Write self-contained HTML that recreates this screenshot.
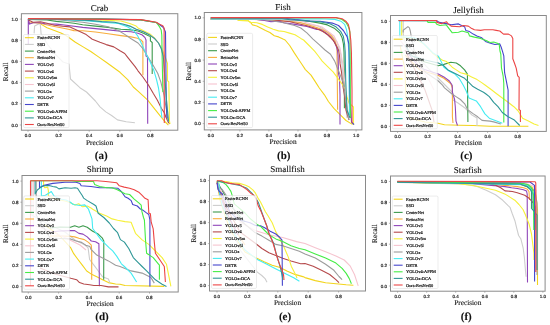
<!DOCTYPE html><html><head><meta charset="utf-8"><style>html,body{margin:0;padding:0;background:#fff;}svg{display:block;will-change:transform;} .tk{font-family:"Liberation Sans",sans-serif;font-size:4.5px;fill:#2a2a2a;stroke:#2a2a2a;stroke-width:0.2px;} .sf{font-family:"Liberation Serif",serif;fill:#111;stroke:#111;stroke-width:0.1px;} .lg{font-family:"Liberation Serif",serif;font-size:4.4px;fill:#111;stroke:#111;stroke-width:0.17px;} text{text-rendering:geometricPrecision;}</style></head><body>
<svg width="550" height="325" viewBox="0 0 550 325">
<rect width="550" height="325" fill="#fff"/>
<clipPath id="ca"><rect x="21.4" y="13.7" width="156.4" height="116.5"/></clipPath>
<g clip-path="url(#ca)" fill="none" stroke-width="1.1" stroke-linejoin="round" stroke-linecap="butt">
<polyline points="39.7,23.2 42.5,25.1 47,27.8 54.4,30.6 60.9,32.9 65.5,35.2 69.2,37.7 75.4,42.3 83.1,46.9 90.8,51.5 98.5,56.9 106.2,62.3 113.8,67.7 120,72.3 127.7,79.6 133.3,87 138,91.2 147.7,100.2 153.2,107.1 158.8,114.1 164.3,121 168.4,125.1" stroke="#f2d41c"/>
<polyline points="34.1,33.4 34.6,26 40.1,23.2 40.6,27.8 41.1,33.8 48,45 56,55 63,62 69,64 70.5,79 79.9,87.7 86.5,92 95.4,101 100,106.8 105.8,111.9 111.6,115.5 117.5,119.9 126.2,121.7 134.9,122.8" stroke="#cdcdcd"/>
<polyline points="28,19.4 47,20 56.3,21.4 65.5,22.3 74,23.2 82.7,24.8 95.5,26.1 108.2,27.4 120.9,29.3 131.1,29.9 138,31 144,33.5 148,35.5 150.4,36.6 150.4,40.9 152.2,42.5 152.2,74" stroke="#3c9a4c"/>
<polyline points="28.2,18.8 29,23 33,22.5 39.7,23.2 51.7,26 60.9,27.8 68.3,29.2 74,30.6 82.7,30.8 95.5,32 108.2,33.7 120.9,35.6 131.1,36.9 137.5,38.2 141,40 142.9,42 142.9,75.2" stroke="#f8ae3e"/>
<polyline points="28.3,45 28.3,18.8 29.5,24.1 33.2,22.8 39.7,22.8 45.2,23.7 56.3,24.1 68.3,25.5 82.7,27.4 95.5,28.6 108.2,29.9 120.9,31.2 131.1,31.8 138,33.3 142.3,35 145,37.6 146,40 146,56 147.5,57 147.7,123.8" stroke="#8f45b9"/>
<polyline points="28.5,20 33,22.3 40.6,21.8 47,23.2 54.4,25.2 62.7,26.3 70,26.9 77.6,30.5 86.2,34.6 92.3,39.2 100,42.3 106.2,44.6 113.8,46.9 120,50.8 124.7,53.5 127.7,57.4 135.1,66.6 138,70.8 142.9,77 148.4,85 153.2,93.3 157.4,100.2 161.5,108.5 164.3,112.7 165.7,116.8 168.4,122.4 169.8,123.8" stroke="#b5494b"/>
<polyline points="28,18.8 80,19.2 108.2,20.4 120.9,21 129.8,23.5 136.2,26.1 138,27.9 144.5,31.2 149.9,33.9 154.2,37.6 158.5,43 161.2,47.3 163.5,53 165.5,58 167.5,63.5 167.5,80.7 168.8,82 169.5,121 170,124" stroke="#f6f03a"/>
<polyline points="28,18.9 55,19.2 70,19.7 89.1,20.4 101.8,21.6 114.5,22.3 123.5,24.2 129.8,26.1 136.2,29.3 143.4,31.7 148.8,34.4 154.2,38.2 158.5,43 161.2,48.4 163.2,56 164,65 165,80 166.5,100 168.5,121.7" stroke="#f6c4cf"/>
<polyline points="28,18.8 45,19 60,20 70,21 82.7,22.3 95.5,24.2 108.2,26.7 118.4,30.5 124.7,34.4 131.1,38.8 138,43 142.9,48.7 146.6,54.8 152.8,64.7 157.7,73.3 160.8,81.9 164,95 166.5,110 167.5,120" stroke="#9c9c9c"/>
<polyline points="28,18.8 55,19.2 70,20 85,20.7 100,22 118.4,23.5 127.3,26.7 133.6,30.5 137.5,35.6 141.7,44 145.4,52.4 150.3,62.2 154,70.8 156.5,79.5 158.5,88 160.1,98.8 161.5,114.1 162,118" stroke="#45ecf2"/>
<polyline points="28,18.7 100,18.9 140.7,19.9 146.6,20.9 156.3,22.5 160,25 162.8,27 163.9,28.5 165.5,32 165.8,60 166.3,105 167,118" stroke="#4545cc"/>
<polyline points="28,18.8 100,19 140.7,19.9 146.6,20.9 156.3,22.5 159.6,26.9 161.2,30.1 161.8,35 162.2,60 162.9,92" stroke="#45ec45"/>
<polyline points="28,18.9 55,19.2 70,19.7 89.1,20.4 101.8,21.6 114.5,22.3 123.5,24.2 129.8,26.1 136.2,29.3 143.4,31.7 148.8,34.4 154.2,38.2 158.5,43 161.2,48.4 163.2,56 164,65 165,80 166.5,100 168.5,121.7" stroke="#2f9797"/>
<polyline points="28,18.6 140.7,19.6 146.6,20.6 156.3,22.2 159.6,24.2 162.8,25.8 164.1,28 164.3,123" stroke="#ec4545"/>
</g>
<rect x="23.6" y="34.5" width="45.4" height="93.1" rx="1.2" fill="#fff" fill-opacity="0.8" stroke="#d8d8d8" stroke-width="0.5"/>
<line x1="24.9" x2="33.8" y1="37.7" y2="37.7" stroke="#f2d41c" stroke-width="1.1"/>
<text class="lg" x="37.2" y="39.2">FasterRCNN</text>
<line x1="24.9" x2="33.8" y1="44.4" y2="44.4" stroke="#cdcdcd" stroke-width="1.1"/>
<text class="lg" x="37.2" y="45.9">SSD</text>
<line x1="24.9" x2="33.8" y1="51.1" y2="51.1" stroke="#3c9a4c" stroke-width="1.1"/>
<text class="lg" x="37.2" y="52.6">CenterNet</text>
<line x1="24.9" x2="33.8" y1="57.7" y2="57.7" stroke="#f8ae3e" stroke-width="1.1"/>
<text class="lg" x="37.2" y="59.2">RetinaNet</text>
<line x1="24.9" x2="33.8" y1="64.4" y2="64.4" stroke="#8f45b9" stroke-width="1.1"/>
<text class="lg" x="37.2" y="65.9">YOLOv3</text>
<line x1="24.9" x2="33.8" y1="71.1" y2="71.1" stroke="#b5494b" stroke-width="1.1"/>
<text class="lg" x="37.2" y="72.6">YOLOv4</text>
<line x1="24.9" x2="33.8" y1="77.8" y2="77.8" stroke="#f6f03a" stroke-width="1.1"/>
<text class="lg" x="37.2" y="79.3">YOLOv5m</text>
<line x1="24.9" x2="33.8" y1="84.5" y2="84.5" stroke="#f6c4cf" stroke-width="1.1"/>
<text class="lg" x="37.2" y="86">YOLOv5l</text>
<line x1="24.9" x2="33.8" y1="91.1" y2="91.1" stroke="#9c9c9c" stroke-width="1.1"/>
<text class="lg" x="37.2" y="92.6">YOLOx</text>
<line x1="24.9" x2="33.8" y1="97.8" y2="97.8" stroke="#45ecf2" stroke-width="1.1"/>
<text class="lg" x="37.2" y="99.3">YOLOv7</text>
<line x1="24.9" x2="33.8" y1="104.5" y2="104.5" stroke="#4545cc" stroke-width="1.1"/>
<text class="lg" x="37.2" y="106">DETR</text>
<line x1="24.9" x2="33.8" y1="111.2" y2="111.2" stroke="#45ec45" stroke-width="1.1"/>
<text class="lg" x="37.2" y="112.7">YOLOv4-AFFM</text>
<line x1="24.9" x2="33.8" y1="117.9" y2="117.9" stroke="#2f9797" stroke-width="1.1"/>
<text class="lg" x="37.2" y="119.4">YOLOx-DCA</text>
<line x1="24.9" x2="33.8" y1="124.5" y2="124.5" stroke="#ec4545" stroke-width="1.1"/>
<text class="lg" x="37.2" y="126">Ours-ResNet50</text>
<rect x="21.4" y="13.7" width="156.4" height="116.5" fill="none" stroke="#8a8a8a" stroke-width="1"/>
<line x1="28" x2="28" y1="130.2" y2="131.8" stroke="#8a8a8a" stroke-width="0.6"/>
<text class="tk" x="28" y="136.8" text-anchor="middle">0.0</text>
<line x1="58.6" x2="58.6" y1="130.2" y2="131.8" stroke="#8a8a8a" stroke-width="0.6"/>
<text class="tk" x="58.6" y="136.8" text-anchor="middle">0.2</text>
<line x1="89.2" x2="89.2" y1="130.2" y2="131.8" stroke="#8a8a8a" stroke-width="0.6"/>
<text class="tk" x="89.2" y="136.8" text-anchor="middle">0.4</text>
<line x1="119.8" x2="119.8" y1="130.2" y2="131.8" stroke="#8a8a8a" stroke-width="0.6"/>
<text class="tk" x="119.8" y="136.8" text-anchor="middle">0.6</text>
<line x1="150.4" x2="150.4" y1="130.2" y2="131.8" stroke="#8a8a8a" stroke-width="0.6"/>
<text class="tk" x="150.4" y="136.8" text-anchor="middle">0.8</text>
<line x1="19.8" x2="21.4" y1="125" y2="125" stroke="#8a8a8a" stroke-width="0.6"/>
<text class="tk" x="17.8" y="126.5" text-anchor="end">0.0</text>
<line x1="19.8" x2="21.4" y1="103.8" y2="103.8" stroke="#8a8a8a" stroke-width="0.6"/>
<text class="tk" x="17.8" y="105.3" text-anchor="end">0.2</text>
<line x1="19.8" x2="21.4" y1="82.6" y2="82.6" stroke="#8a8a8a" stroke-width="0.6"/>
<text class="tk" x="17.8" y="84.1" text-anchor="end">0.4</text>
<line x1="19.8" x2="21.4" y1="61.5" y2="61.5" stroke="#8a8a8a" stroke-width="0.6"/>
<text class="tk" x="17.8" y="63" text-anchor="end">0.6</text>
<line x1="19.8" x2="21.4" y1="40.3" y2="40.3" stroke="#8a8a8a" stroke-width="0.6"/>
<text class="tk" x="17.8" y="41.8" text-anchor="end">0.8</text>
<line x1="19.8" x2="21.4" y1="19.1" y2="19.1" stroke="#8a8a8a" stroke-width="0.6"/>
<text class="tk" x="17.8" y="20.6" text-anchor="end">1.0</text>
<text class="sf" x="99.6" y="10.5" font-size="9" text-anchor="middle">Crab</text>
<text class="sf" x="99.6" y="145" font-size="7.3" text-anchor="middle">Precision</text>
<text class="sf" transform="translate(7.8,71.9) rotate(-90)" font-size="7.3" text-anchor="middle">Recall</text>
<text class="sf" x="101.2" y="158.8" font-size="11" font-weight="bold" text-anchor="middle">(a)</text>
<clipPath id="cb"><rect x="204.3" y="12.5" width="157.6" height="117.4"/></clipPath>
<g clip-path="url(#cb)" fill="none" stroke-width="1.1" stroke-linejoin="round" stroke-linecap="butt">
<polyline points="210.8,19 236,19 239.4,20.5 248,20.6 250.3,22.2 252.5,24.9 256.8,26 261.2,28.2 265.5,30.4 269.9,32.5 274.3,35.8 278.6,36.9 283,39.1 285.1,40 289.7,45.5 294.3,52.9 298,58.5 301.7,64 305.4,69.6 311,75.1 314.6,80.6 319.3,88 324.4,94.8 328.4,101.5 333.9,108.3 340.6,115.1 346,120.5 351.5,123.9 354.2,123.9" stroke="#f2d41c"/>
<polyline points="210.8,19 280,19.2 290,21 318,26 330,33 337,42 341,55 343,75 345,100 347,118" stroke="#cdcdcd"/>
<polyline points="210.8,19 280,19.2 300,20.5 310,21.5 320,23.1 327.4,24.9 334.8,28.6 339.7,32.9 342.1,37.8 343.4,44 344,52 344.4,80 344.4,108.3" stroke="#3c9a4c"/>
<polyline points="210.8,19 250,19.2 271.7,20.2 290,21.5 300,22.5 306.9,24.5 316.7,27.5 322.9,30 328,32.5 332,36.5 335,41 337,47 337.1,63.9 337.6,109.7" stroke="#f8ae3e"/>
<polyline points="210.8,19 255,19.3 260,20 264.5,20.5 271,21.6 278.6,21.1 284.1,22.7 295,24.4 306.9,26.5 316.7,29.5 320,29.5 326,33 331,37.5 334.5,42 336.5,47 337.4,50 338.1,55.5 338.5,73.6 339.5,77.7 340,95 340,124.6" stroke="#8f45b9"/>
<polyline points="210.8,19 270,19.5 290,21.7 306.9,25.8 316.7,28.8 322.9,31.5 328,35 333,40 336.5,46 338.5,50 339.5,55.5 340.1,63.9 341.5,72 342.9,86 344.4,95 346,110 349,120" stroke="#b5494b"/>
<polyline points="210.8,19 236,19 239.4,20.5 248,20.6 250.3,22.2 256.8,22.7 262.3,24.4 267.7,27.1 273.2,29.3 278.6,30.9 284.1,31.5 289.5,33.1 295,34.7 300.8,38.4 303.6,40 309.1,45.5 314.6,51.1 318,55.5 322.2,61.1 327.7,66.6 333.3,72.2 337.4,77.7 341.6,83.3 345,88.8 347,97 349,103 353.5,107 353.5,123" stroke="#f6f03a"/>
<polyline points="210.8,19 280,19.3 300,21 322,27 334,36 340,48 343,65 345,85 347,105 349,118" stroke="#f6c4cf"/>
<polyline points="210.8,19 260,19.3 270,20.5 282.3,22.5 294.6,25.5 300.8,28 306.9,32.9 313,39.1 319.2,44.6 325,50 330.5,54.2 334.7,61.1 337.4,68 340.2,75 343,81.9 345,95 347,110 349,120" stroke="#9c9c9c"/>
<polyline points="210.8,18.9 320,18.8 334.8,19.4 340.9,21.2 344.6,24.3 346.4,29.2 347.7,36.6 348.9,52 349,80 349.5,115" stroke="#45ecf2"/>
<polyline points="210.8,17.8 285,18.2 295,19.5 310,21 320,21.2 332.3,23.1 338.5,25.5 343.4,30.5 347.1,36.6 348.9,44 349.3,60 350,100 351.5,122 354,124.6" stroke="#4545cc"/>
<polyline points="210.8,17.7 336,17.8 342,19.5 346,22.5 348.5,27 349.9,32 350.2,60 350.4,118" stroke="#45ec45"/>
<polyline points="210.8,17.9 280,18.2 290,19.8 320,21.8 329.8,23.7 336,26.8 340.9,31.7 343.4,36.6 344.6,44 345.2,52 345.7,80 347,110 350,118" stroke="#2f9797"/>
<polyline points="210.8,17.6 336,17.6 342.1,18.8 345.8,21.2 348.3,24.3 349.5,29.2 350.8,40.3 351.4,52 352,90 352,123" stroke="#ec4545"/>
</g>
<rect x="206.8" y="33.3" width="45.8" height="94.3" rx="1.2" fill="#fff" fill-opacity="0.8" stroke="#d8d8d8" stroke-width="0.5"/>
<line x1="208.1" x2="217" y1="37.4" y2="37.4" stroke="#f2d41c" stroke-width="1.1"/>
<text class="lg" x="220.4" y="38.9">FasterRCNN</text>
<line x1="208.1" x2="217" y1="44" y2="44" stroke="#cdcdcd" stroke-width="1.1"/>
<text class="lg" x="220.4" y="45.5">SSD</text>
<line x1="208.1" x2="217" y1="50.7" y2="50.7" stroke="#3c9a4c" stroke-width="1.1"/>
<text class="lg" x="220.4" y="52.2">CenterNet</text>
<line x1="208.1" x2="217" y1="57.4" y2="57.4" stroke="#f8ae3e" stroke-width="1.1"/>
<text class="lg" x="220.4" y="58.9">RetinaNet</text>
<line x1="208.1" x2="217" y1="64" y2="64" stroke="#8f45b9" stroke-width="1.1"/>
<text class="lg" x="220.4" y="65.5">YOLOv3</text>
<line x1="208.1" x2="217" y1="70.7" y2="70.7" stroke="#b5494b" stroke-width="1.1"/>
<text class="lg" x="220.4" y="72.2">YOLOv4</text>
<line x1="208.1" x2="217" y1="77.3" y2="77.3" stroke="#f6f03a" stroke-width="1.1"/>
<text class="lg" x="220.4" y="78.8">YOLOv5m</text>
<line x1="208.1" x2="217" y1="84" y2="84" stroke="#f6c4cf" stroke-width="1.1"/>
<text class="lg" x="220.4" y="85.5">YOLOv5l</text>
<line x1="208.1" x2="217" y1="90.6" y2="90.6" stroke="#9c9c9c" stroke-width="1.1"/>
<text class="lg" x="220.4" y="92.1">YOLOx</text>
<line x1="208.1" x2="217" y1="97.2" y2="97.2" stroke="#45ecf2" stroke-width="1.1"/>
<text class="lg" x="220.4" y="98.8">YOLOv7</text>
<line x1="208.1" x2="217" y1="103.9" y2="103.9" stroke="#4545cc" stroke-width="1.1"/>
<text class="lg" x="220.4" y="105.4">DETR</text>
<line x1="208.1" x2="217" y1="110.6" y2="110.6" stroke="#45ec45" stroke-width="1.1"/>
<text class="lg" x="220.4" y="112.1">YOLOv4-AFFM</text>
<line x1="208.1" x2="217" y1="117.2" y2="117.2" stroke="#2f9797" stroke-width="1.1"/>
<text class="lg" x="220.4" y="118.7">YOLOx-DCA</text>
<line x1="208.1" x2="217" y1="123.8" y2="123.8" stroke="#ec4545" stroke-width="1.1"/>
<text class="lg" x="220.4" y="125.3">Ours-ResNet50</text>
<rect x="204.3" y="12.5" width="157.6" height="117.4" fill="none" stroke="#8a8a8a" stroke-width="1"/>
<line x1="210.8" x2="210.8" y1="129.9" y2="131.5" stroke="#8a8a8a" stroke-width="0.6"/>
<text class="tk" x="210.8" y="136.5" text-anchor="middle">0.0</text>
<line x1="239.9" x2="239.9" y1="129.9" y2="131.5" stroke="#8a8a8a" stroke-width="0.6"/>
<text class="tk" x="239.9" y="136.5" text-anchor="middle">0.2</text>
<line x1="268.9" x2="268.9" y1="129.9" y2="131.5" stroke="#8a8a8a" stroke-width="0.6"/>
<text class="tk" x="268.9" y="136.5" text-anchor="middle">0.4</text>
<line x1="298" x2="298" y1="129.9" y2="131.5" stroke="#8a8a8a" stroke-width="0.6"/>
<text class="tk" x="298" y="136.5" text-anchor="middle">0.6</text>
<line x1="327" x2="327" y1="129.9" y2="131.5" stroke="#8a8a8a" stroke-width="0.6"/>
<text class="tk" x="327" y="136.5" text-anchor="middle">0.8</text>
<line x1="356.1" x2="356.1" y1="129.9" y2="131.5" stroke="#8a8a8a" stroke-width="0.6"/>
<text class="tk" x="356.1" y="136.5" text-anchor="middle">1.0</text>
<line x1="202.7" x2="204.3" y1="123.6" y2="123.6" stroke="#8a8a8a" stroke-width="0.6"/>
<text class="tk" x="200.7" y="125.1" text-anchor="end">0.0</text>
<line x1="202.7" x2="204.3" y1="102.4" y2="102.4" stroke="#8a8a8a" stroke-width="0.6"/>
<text class="tk" x="200.7" y="103.9" text-anchor="end">0.2</text>
<line x1="202.7" x2="204.3" y1="81.3" y2="81.3" stroke="#8a8a8a" stroke-width="0.6"/>
<text class="tk" x="200.7" y="82.8" text-anchor="end">0.4</text>
<line x1="202.7" x2="204.3" y1="60.1" y2="60.1" stroke="#8a8a8a" stroke-width="0.6"/>
<text class="tk" x="200.7" y="61.6" text-anchor="end">0.6</text>
<line x1="202.7" x2="204.3" y1="39" y2="39" stroke="#8a8a8a" stroke-width="0.6"/>
<text class="tk" x="200.7" y="40.5" text-anchor="end">0.8</text>
<line x1="202.7" x2="204.3" y1="17.8" y2="17.8" stroke="#8a8a8a" stroke-width="0.6"/>
<text class="tk" x="200.7" y="19.3" text-anchor="end">1.0</text>
<text class="sf" x="283.1" y="9.8" font-size="9" text-anchor="middle">Fish</text>
<text class="sf" x="283.1" y="144.4" font-size="7.3" text-anchor="middle">Precision</text>
<text class="sf" transform="translate(190.7,71.2) rotate(-90)" font-size="7.3" text-anchor="middle">Recall</text>
<text class="sf" x="283.8" y="159.2" font-size="11" font-weight="bold" text-anchor="middle">(b)</text>
<clipPath id="cc"><rect x="390.5" y="15.5" width="155.8" height="115.9"/></clipPath>
<g clip-path="url(#cc)" fill="none" stroke-width="1.1" stroke-linejoin="round" stroke-linecap="butt">
<polyline points="400,45 405,70 406,100 410,118 425,122 438,123.3 444.5,124.8 458.9,125.2 473.4,125.5 490,126.2 528.4,126.2" stroke="#f2d41c"/>
<polyline points="403.2,20.8 403.2,33 404,40 420,60 435,75 445,85 452,92 453,100 458,103 465,108 472,115 477,118 477,126" stroke="#cdcdcd"/>
<polyline points="405,45 410,55 425,62 438.3,65.8 443.9,64.4 450.8,62.3 456.3,63 460.5,65.8 464.6,69.9 467.4,74.1 467.9,121.9" stroke="#3c9a4c"/>
<polyline points="405,55 420,70 438.3,75.5 443.9,78.3 450.8,83.8 452.4,88 452.4,116.8 453,123" stroke="#f8ae3e"/>
<polyline points="405,50 420,68 438.3,74.1 443.9,76.9 449.4,81 452.2,85.2 452.4,92.2 454.6,99.5 455.3,106.7 456,121.1 457.5,125.5" stroke="#8f45b9"/>
<polyline points="405,50 415,70 425,90 432,110 434,122" stroke="#b5494b"/>
<polyline points="401.7,20.5 401.7,37 406,38 415,39 424,44 433,53.5 438.3,57.5 442.5,60.2 446.6,61.6 449.4,64.4 452.2,67.2 456.3,69.9 460.5,72.7 466,74.1 471.6,76.9 477.1,79.6 481.3,82.4 485,85 490.8,89.3 496.6,93.7 502.3,98 508.1,102.3 513.9,106.7 518.2,111 522.6,118.2 528.4,121.1 534.1,124 538.5,125.5" stroke="#f6f03a"/>
<polyline points="400,40 415,60 428,78 434,90" stroke="#f6c4cf"/>
<polyline points="403.2,32.5 403.2,30.3 407.9,26.6 409.4,27.9 410.3,31 411,35 415,55 425,72 438.3,81 442.5,85.2 444.5,87.9 451.7,93.7 456,96.6 460.4,99.5 464.7,103.8 467.6,109.6 473.4,113.9 477.7,116.8 482,120.4 490,121.1 493.7,121.9 500.9,124" stroke="#9c9c9c"/>
<polyline points="399.8,20.5 399.8,37 405,37 414.7,38 423,43 432.7,52.7 438.3,56.1 441.1,61.6 443.9,67.2 449.4,71.3 454.9,74.1 459.1,78.3 463.3,85.2 466.1,90.8 469,98 476.3,100.9 480.6,106.7 484.9,113.9 489.3,118.2 496.6,121.1 502.3,123.3" stroke="#45ecf2"/>
<polyline points="398.6,20.8 436.7,20.8 439.2,22.4 446.2,23.6 451.1,24.8 458.5,23.9 461.5,25.5 464.6,26.7 465.8,30.4 469.5,31.6 473.2,34.1 476.9,35.9 481.8,37.8 485.5,41.4 490.4,43.3 494.9,44.5 499.8,43.9 501.1,47 502.3,50.7 503.8,55.8 504.6,72.7 506.2,80.4 507.7,88.1 508.1,90 508.1,126.2" stroke="#4545cc"/>
<polyline points="398.6,20.5 426.9,20.6 428.1,22.4 435.5,22.4 436.7,24.2 440,25.5 446.2,24.8 452.3,32.8 458.5,32.2 462.1,31 468.3,32.8 469.5,35.9 474.4,37.1 480.6,38.4 486.7,40.8 490,42.5 493.7,42 497.4,43.2 499.2,44.5 500,51.2 500.8,54.2 501.5,68.1 503.1,75.8 503.8,83.5 503.8,122.6" stroke="#45ec45"/>
<polyline points="405,45 412,56 425,60 438.3,63 443.9,65.8 448,69.9 453.6,72.7 459.1,75.5 464.6,78.3 468.8,82.4 473,86.6 477.7,89.3 483.5,92.2 486,94 489.3,96.6 493.7,102.3 498,106.7 502.3,112.5 508.1,116.8 513.9,119.7 519.7,125.5" stroke="#2f9797"/>
<polyline points="398.6,20.5 436.7,20.5 436.7,22.4 441.7,23.6 446.6,21.8 447.8,23.6 451.1,26.1 459.7,26.7 463.4,25.5 468.3,26.1 470.8,27.9 474.4,29.8 480.6,30.4 484.3,29.8 492.9,29.8 496.2,30.4 499.8,31 503.5,34.1 508.5,34.1 511.5,35.9 512.8,38.4 512.8,58.8 514.6,63.5 516.2,68.1 517.7,75.8 519.2,77.3 519,109.6 520.4,110.5 520.4,121.9" stroke="#ec4545"/>
</g>
<rect x="392.4" y="35.5" width="44.9" height="93.3" rx="1.2" fill="#fff" fill-opacity="0.8" stroke="#d8d8d8" stroke-width="0.5"/>
<line x1="393.7" x2="402.6" y1="39.2" y2="39.2" stroke="#f2d41c" stroke-width="1.1"/>
<text class="lg" x="406" y="40.7">FasterRCNN</text>
<line x1="393.7" x2="402.6" y1="45.8" y2="45.8" stroke="#cdcdcd" stroke-width="1.1"/>
<text class="lg" x="406" y="47.3">SSD</text>
<line x1="393.7" x2="402.6" y1="52.4" y2="52.4" stroke="#3c9a4c" stroke-width="1.1"/>
<text class="lg" x="406" y="53.9">CenterNet</text>
<line x1="393.7" x2="402.6" y1="59.1" y2="59.1" stroke="#f8ae3e" stroke-width="1.1"/>
<text class="lg" x="406" y="60.6">RetinaNet</text>
<line x1="393.7" x2="402.6" y1="65.7" y2="65.7" stroke="#8f45b9" stroke-width="1.1"/>
<text class="lg" x="406" y="67.2">YOLOv3</text>
<line x1="393.7" x2="402.6" y1="72.3" y2="72.3" stroke="#b5494b" stroke-width="1.1"/>
<text class="lg" x="406" y="73.8">YOLOv4</text>
<line x1="393.7" x2="402.6" y1="78.9" y2="78.9" stroke="#f6f03a" stroke-width="1.1"/>
<text class="lg" x="406" y="80.4">YOLOv5m</text>
<line x1="393.7" x2="402.6" y1="85.5" y2="85.5" stroke="#f6c4cf" stroke-width="1.1"/>
<text class="lg" x="406" y="87">YOLOv5l</text>
<line x1="393.7" x2="402.6" y1="92.2" y2="92.2" stroke="#9c9c9c" stroke-width="1.1"/>
<text class="lg" x="406" y="93.7">YOLOx</text>
<line x1="393.7" x2="402.6" y1="98.8" y2="98.8" stroke="#45ecf2" stroke-width="1.1"/>
<text class="lg" x="406" y="100.3">YOLOv7</text>
<line x1="393.7" x2="402.6" y1="105.4" y2="105.4" stroke="#4545cc" stroke-width="1.1"/>
<text class="lg" x="406" y="106.9">DETR</text>
<line x1="393.7" x2="402.6" y1="112" y2="112" stroke="#45ec45" stroke-width="1.1"/>
<text class="lg" x="406" y="113.5">YOLOv4-AFFM</text>
<line x1="393.7" x2="402.6" y1="118.6" y2="118.6" stroke="#2f9797" stroke-width="1.1"/>
<text class="lg" x="406" y="120.1">YOLOx-DCA</text>
<line x1="393.7" x2="402.6" y1="125.3" y2="125.3" stroke="#ec4545" stroke-width="1.1"/>
<text class="lg" x="406" y="126.8">Ours-ResNet50</text>
<rect x="390.5" y="15.5" width="155.8" height="115.9" fill="none" stroke="#8a8a8a" stroke-width="1"/>
<line x1="397.6" x2="397.6" y1="131.4" y2="133" stroke="#8a8a8a" stroke-width="0.6"/>
<text class="tk" x="397.6" y="138" text-anchor="middle">0.0</text>
<line x1="427.6" x2="427.6" y1="131.4" y2="133" stroke="#8a8a8a" stroke-width="0.6"/>
<text class="tk" x="427.6" y="138" text-anchor="middle">0.2</text>
<line x1="457.6" x2="457.6" y1="131.4" y2="133" stroke="#8a8a8a" stroke-width="0.6"/>
<text class="tk" x="457.6" y="138" text-anchor="middle">0.4</text>
<line x1="487.6" x2="487.6" y1="131.4" y2="133" stroke="#8a8a8a" stroke-width="0.6"/>
<text class="tk" x="487.6" y="138" text-anchor="middle">0.6</text>
<line x1="517.6" x2="517.6" y1="131.4" y2="133" stroke="#8a8a8a" stroke-width="0.6"/>
<text class="tk" x="517.6" y="138" text-anchor="middle">0.8</text>
<line x1="388.9" x2="390.5" y1="126.4" y2="126.4" stroke="#8a8a8a" stroke-width="0.6"/>
<text class="tk" x="386.9" y="127.9" text-anchor="end">0.0</text>
<line x1="388.9" x2="390.5" y1="105.4" y2="105.4" stroke="#8a8a8a" stroke-width="0.6"/>
<text class="tk" x="386.9" y="106.9" text-anchor="end">0.2</text>
<line x1="388.9" x2="390.5" y1="84.4" y2="84.4" stroke="#8a8a8a" stroke-width="0.6"/>
<text class="tk" x="386.9" y="85.9" text-anchor="end">0.4</text>
<line x1="388.9" x2="390.5" y1="63.4" y2="63.4" stroke="#8a8a8a" stroke-width="0.6"/>
<text class="tk" x="386.9" y="64.9" text-anchor="end">0.6</text>
<line x1="388.9" x2="390.5" y1="42.4" y2="42.4" stroke="#8a8a8a" stroke-width="0.6"/>
<text class="tk" x="386.9" y="43.9" text-anchor="end">0.8</text>
<line x1="388.9" x2="390.5" y1="21.4" y2="21.4" stroke="#8a8a8a" stroke-width="0.6"/>
<text class="tk" x="386.9" y="22.9" text-anchor="end">1.0</text>
<text class="sf" x="468.4" y="12.5" font-size="9" text-anchor="middle">Jellyfish</text>
<text class="sf" x="468.4" y="145.3" font-size="7.3" text-anchor="middle">Precision</text>
<text class="sf" transform="translate(376.9,73.5) rotate(-90)" font-size="7.3" text-anchor="middle">Recall</text>
<text class="sf" x="466.4" y="159.3" font-size="11" font-weight="bold" text-anchor="middle">(c)</text>
<clipPath id="cd"><rect x="22" y="175.5" width="156.2" height="116.5"/></clipPath>
<g clip-path="url(#cd)" fill="none" stroke-width="1.1" stroke-linejoin="round" stroke-linecap="butt">
<polyline points="45,225 60,236 70.8,247.9 73.7,253.7 78,259.5 82.3,265.2 86.7,271 91,273.9 96.8,276.8 102.6,279.7 108.4,282.6 115.6,284 120,284.2 125,285.5 164.3,286.4" stroke="#f2d41c"/>
<polyline points="31.8,181 31.8,215 50,225 65,232 75,240 85,245 88.1,247.9 89.6,259.5 93.9,265.2 98.3,271 102.6,276.8 108.4,279 109.8,282.6" stroke="#cdcdcd"/>
<polyline points="50,228 60,227 70.5,227.2 74.7,225.8 78.9,227.2 83,225.8 87.2,227.2 92.7,231.3 98.2,234.1 102.4,238.2 103.8,241 103.7,279.7" stroke="#3c9a4c"/>
<polyline points="50,236 60,236 70.5,236.2 74.7,236.9 78.9,238.2 84.4,239.6 88.5,242.4 91.3,245.2 91.7,250 91.7,279.7" stroke="#f8ae3e"/>
<polyline points="50,232 60,231 70.5,230.6 74.7,230.6 78.9,233.4 83,234.1 87.2,236.9 91.3,241 95.5,241.7 98.9,243.8 99.4,286.2" stroke="#8f45b9"/>
<polyline points="40,268 55,274 70.8,278.3 76.6,279.7 79.5,282.6 83.8,284 89.6,284.8 93.9,285.5 101.1,285.5 108.4,286.9 118.5,286.9" stroke="#b5494b"/>
<polyline points="43.6,181 43.6,185.6 44.7,187.8 47.7,187.1 48.4,190.8 48.4,196 55,199 65,201 70,202.5 75,204.9 78.7,203.7 82.4,206.8 87.3,206.1 91,208 92.7,209.2 99.6,213.3 106.6,216.1 112.1,218.9 117.6,220.2 125,221.6 131.1,222.2 135.5,233.3 142.1,239.9 148.8,244.4 155.4,251 162.1,257.6 166.5,264.3 168.7,275.3 170.9,286.4" stroke="#f6f03a"/>
<polyline points="33.3,181 33.3,225 55,233 70,240 80,245 86,250" stroke="#f6c4cf"/>
<polyline points="36.2,181 36.2,215 50,238 60,238.5 70.5,238.9 76.1,241 81.6,242.4 85.8,245.2 89.9,246.6 91,249.3 96.8,255.1 102.6,258 108.4,260.9 115.6,265.2 120,266.5 131.1,270.9 142.1,273.1 151,277.6 154.3,283.1" stroke="#9c9c9c"/>
<polyline points="41.4,181 41.4,196 45.4,195.2 49.1,193 51.3,191.5 54,196 60,199 66,200 70,202 73.3,204.5 79.9,205.5 84.8,204.9 88.5,209.2 92,218.9 92.7,228.5 96.9,234.1 101,239.6 105.2,243.8 109.3,247.9 112.7,250.8 117,256.6 121.4,263.8 124.4,266.5 131.1,273.1 136.6,282" stroke="#45ecf2"/>
<polyline points="39.5,181 39.5,187.8 44.1,185.2 52.8,183.4 65,182.2 76.1,182.2 79.9,183.4 81.2,185.8 91,186.5 99.6,187.7 108.2,187.7 118,188.3 121.7,192 125,196.8 128.1,198.3 131.2,200.6 132.7,204.5 137.3,206 140.4,209.1 143.5,210.6 146.5,212.9 148.8,214.5 149.9,220 149.9,286.4" stroke="#4545cc"/>
<polyline points="30.5,180.7 72,180.8 76,181.5 93.5,181.5 94.7,184.6 99.6,186.5 107,187.7 111.9,187.7 116.8,189.5 121.7,192 125,193.7 129.6,194.5 134.2,199.1 138.8,202.9 141.2,205.2 141.9,211.4 143.5,217.5 144.4,220 145.5,239.9 146.6,253.2 153.2,257.6 158.7,264.3 159.4,265 159.4,279.8" stroke="#45ec45"/>
<polyline points="35.1,181 35.1,194 37.3,190 41,187.1 44.7,185.6 49.1,185.5 52.8,186.5 56.4,187.1 58.9,188.9 65,187.7 71.2,188.3 75,187.7 77.5,188.3 79.9,192 82.4,195.7 83.6,198.1 87.3,200.6 93.5,204.3 96,206 98.2,213.3 103.8,217.5 109.3,223 113.5,228.5 117.6,232.7 120.4,239.6 124.4,242.1 128.9,248.8 133.3,257.6 137.7,262.1 142.1,266.5 146.6,270.9 151,275.3 155.4,279.8 162.1,284.2 166.5,286.4" stroke="#2f9797"/>
<polyline points="30.5,286 30.5,180.7 97.1,180.7 105.8,181.5 116.8,182.8 119.3,185.8 124.2,187.1 129.6,188.3 134.2,189.8 138.8,192.2 141.9,195.2 145,198.3 148.1,199.8 148.8,212.9 150.4,213.7 151.2,222.2 153.2,228.9 154.3,242.1 155.4,253.2 159.8,259.8 164.3,266.5 165.4,282" stroke="#ec4545"/>
</g>
<rect x="23.8" y="195.9" width="45.7" height="93.4" rx="1.2" fill="#fff" fill-opacity="0.8" stroke="#d8d8d8" stroke-width="0.5"/>
<line x1="25.1" x2="34" y1="199" y2="199" stroke="#f2d41c" stroke-width="1.1"/>
<text class="lg" x="37.4" y="200.5">FasterRCNN</text>
<line x1="25.1" x2="34" y1="205.7" y2="205.7" stroke="#cdcdcd" stroke-width="1.1"/>
<text class="lg" x="37.4" y="207.2">SSD</text>
<line x1="25.1" x2="34" y1="212.4" y2="212.4" stroke="#3c9a4c" stroke-width="1.1"/>
<text class="lg" x="37.4" y="213.9">CenterNet</text>
<line x1="25.1" x2="34" y1="219" y2="219" stroke="#f8ae3e" stroke-width="1.1"/>
<text class="lg" x="37.4" y="220.5">RetinaNet</text>
<line x1="25.1" x2="34" y1="225.7" y2="225.7" stroke="#8f45b9" stroke-width="1.1"/>
<text class="lg" x="37.4" y="227.2">YOLOv3</text>
<line x1="25.1" x2="34" y1="232.4" y2="232.4" stroke="#b5494b" stroke-width="1.1"/>
<text class="lg" x="37.4" y="233.9">YOLOv4</text>
<line x1="25.1" x2="34" y1="239.1" y2="239.1" stroke="#f6f03a" stroke-width="1.1"/>
<text class="lg" x="37.4" y="240.6">YOLOv5m</text>
<line x1="25.1" x2="34" y1="245.8" y2="245.8" stroke="#f6c4cf" stroke-width="1.1"/>
<text class="lg" x="37.4" y="247.3">YOLOv5l</text>
<line x1="25.1" x2="34" y1="252.4" y2="252.4" stroke="#9c9c9c" stroke-width="1.1"/>
<text class="lg" x="37.4" y="253.9">YOLOx</text>
<line x1="25.1" x2="34" y1="259.1" y2="259.1" stroke="#45ecf2" stroke-width="1.1"/>
<text class="lg" x="37.4" y="260.6">YOLOv7</text>
<line x1="25.1" x2="34" y1="265.8" y2="265.8" stroke="#4545cc" stroke-width="1.1"/>
<text class="lg" x="37.4" y="267.3">DETR</text>
<line x1="25.1" x2="34" y1="272.5" y2="272.5" stroke="#45ec45" stroke-width="1.1"/>
<text class="lg" x="37.4" y="274">YOLOv4-AFFM</text>
<line x1="25.1" x2="34" y1="279.2" y2="279.2" stroke="#2f9797" stroke-width="1.1"/>
<text class="lg" x="37.4" y="280.7">YOLOx-DCA</text>
<line x1="25.1" x2="34" y1="285.8" y2="285.8" stroke="#ec4545" stroke-width="1.1"/>
<text class="lg" x="37.4" y="287.3">Ours-ResNet50</text>
<rect x="22" y="175.5" width="156.2" height="116.5" fill="none" stroke="#8a8a8a" stroke-width="1"/>
<line x1="28.3" x2="28.3" y1="292" y2="293.6" stroke="#8a8a8a" stroke-width="0.6"/>
<text class="tk" x="28.3" y="298.6" text-anchor="middle">0.0</text>
<line x1="58.6" x2="58.6" y1="292" y2="293.6" stroke="#8a8a8a" stroke-width="0.6"/>
<text class="tk" x="58.6" y="298.6" text-anchor="middle">0.2</text>
<line x1="88.9" x2="88.9" y1="292" y2="293.6" stroke="#8a8a8a" stroke-width="0.6"/>
<text class="tk" x="88.9" y="298.6" text-anchor="middle">0.4</text>
<line x1="119.2" x2="119.2" y1="292" y2="293.6" stroke="#8a8a8a" stroke-width="0.6"/>
<text class="tk" x="119.2" y="298.6" text-anchor="middle">0.6</text>
<line x1="149.5" x2="149.5" y1="292" y2="293.6" stroke="#8a8a8a" stroke-width="0.6"/>
<text class="tk" x="149.5" y="298.6" text-anchor="middle">0.8</text>
<line x1="20.4" x2="22" y1="286.6" y2="286.6" stroke="#8a8a8a" stroke-width="0.6"/>
<text class="tk" x="18.4" y="288.1" text-anchor="end">0.0</text>
<line x1="20.4" x2="22" y1="265.5" y2="265.5" stroke="#8a8a8a" stroke-width="0.6"/>
<text class="tk" x="18.4" y="267" text-anchor="end">0.2</text>
<line x1="20.4" x2="22" y1="244.4" y2="244.4" stroke="#8a8a8a" stroke-width="0.6"/>
<text class="tk" x="18.4" y="245.9" text-anchor="end">0.4</text>
<line x1="20.4" x2="22" y1="223.3" y2="223.3" stroke="#8a8a8a" stroke-width="0.6"/>
<text class="tk" x="18.4" y="224.8" text-anchor="end">0.6</text>
<line x1="20.4" x2="22" y1="202.2" y2="202.2" stroke="#8a8a8a" stroke-width="0.6"/>
<text class="tk" x="18.4" y="203.7" text-anchor="end">0.8</text>
<line x1="20.4" x2="22" y1="181.1" y2="181.1" stroke="#8a8a8a" stroke-width="0.6"/>
<text class="tk" x="18.4" y="182.6" text-anchor="end">1.0</text>
<text class="sf" x="100.1" y="172.2" font-size="9" text-anchor="middle">Shrimp</text>
<text class="sf" x="100.1" y="306" font-size="7.3" text-anchor="middle">Precision</text>
<text class="sf" transform="translate(8.4,233.8) rotate(-90)" font-size="7.3" text-anchor="middle">Recall</text>
<text class="sf" x="102" y="319.8" font-size="11" font-weight="bold" text-anchor="middle">(d)</text>
<clipPath id="ce"><rect x="209.5" y="175.4" width="156" height="115.6"/></clipPath>
<g clip-path="url(#ce)" fill="none" stroke-width="1.1" stroke-linejoin="round" stroke-linecap="butt">
<polyline points="217,181 220,200 230,230 245,252 257.3,258.4 264.1,261.8 272.1,265.3 280.1,267.5 286.9,271 294.9,274.4 302.8,276.6 305,277.6 315.3,280.6 325.6,282.7 335.9,283.7 346.2,284.8 353.4,285.2" stroke="#f2d41c"/>
<polyline points="218,186 225,210 240,250 257.3,272.1 261.8,275.5 265.3,278.9 267,282.3" stroke="#cdcdcd"/>
<polyline points="217,182 222,190 230,205 245,222" stroke="#3c9a4c"/>
<polyline points="217,182 222,200 232,225 245,245" stroke="#f8ae3e"/>
<polyline points="217,183 220,195 228,215 238,235" stroke="#8f45b9"/>
<polyline points="217,183 225,205 240,232 255,243 261.9,248.5 268.9,252.7 275.8,255.5 282.7,258.2 291,261 300.7,263.8 305,263.6 313.2,266.2 321.5,270.3 329.7,274.5 335.9,279.6 339,282.7" stroke="#b5494b"/>
<polyline points="217,181 226,181.5 232.1,182.8 239.5,183.4 245.7,185.2 249.4,187.1 253.1,190.1 255.5,193.2 258,198.1 260.4,201.8 262.9,206.8 265.4,211.7 268,215.8 272.2,222.7 275.8,231.9 279.9,238.9 284.1,247.2 288.2,256.9 291.4,266.4 293.7,271 296,275.5 297,278" stroke="#f6f03a"/>
<polyline points="217,182 225,200 240,222 255,230.5 268.9,234.7 282.7,237.5 296.6,241.6 305,243.5 315.3,247.7 325.6,251.8 335.9,255.9 344.2,260 350.3,266.2 354.5,274.5 356.5,280.6 358.2,285.8" stroke="#f6c4cf"/>
<polyline points="217.5,184 218.6,187.1 222.3,189.5 226,195.1 240,220 255,232.6 261.9,236.1 268.9,240.2 275.8,244.4 282.7,245.8 291,248.5 299.3,251.3 305,253.9 315.3,258 325.6,264.2 333.9,270.3 339,276.5 342.1,279.6" stroke="#9c9c9c"/>
<polyline points="219.2,183.4 219.2,191 222,205 235,235 245,250 257.3,259.6 266.4,264.1 275.5,268.7 284.6,273.2 293.7,277.8 299.4,281.2" stroke="#45ecf2"/>
<polyline points="217.4,181 217.4,185.8 218,189.5 219.8,192 222.3,193.8 222.9,195.7 230,212 237.3,219.2 250,222.7 255.5,225.5 260.5,225.8 264.7,227.8 270.2,231.2 275.8,234 279.9,237.5 282,240.2 282.4,285.8" stroke="#4545cc"/>
<polyline points="217.4,182.2 219.8,181.5 223.5,182.8 226,184.6 228.5,187.7 230.9,191.4 232.1,195.1 234.2,203.8 245,213 250,218.5 256.9,224.1 261.1,226.9 265.2,231 268.9,234.7 275.8,238.9 282.7,241.6 291,245.8 299.3,248.5 305,249.7 315.3,253.9 325.6,258 335.9,263.1 342.1,268.3 346.2,273.4 349.3,278.6 351.4,283.7" stroke="#45ec45"/>
<polyline points="217,181 240,185.5 246.9,188.3 251.8,193.2 255.5,197.5 258.6,203.1 261,210 264,218.5 266.8,226 269,233.5 273.5,243 276,253 278.5,261 280.6,268.7 282,275 282.9,280" stroke="#2f9797"/>
<polyline points="216.8,180.7 221.7,180.7 224.8,182.2 229.7,183.4 234.6,184 239.5,184.6 243.2,187.1 246.9,189.5 250.6,193.2 253.7,195.1 255.5,197.5 256.7,200.6 258.3,206.1 261.1,211.6 263.9,218.5 266.6,225.5 268.9,233.3 273,243 275.8,252.7 277.8,259.6 279.5,264.1 281.8,269.8 283.5,274.4 284,280" stroke="#ec4545"/>
</g>
<rect x="211.5" y="195.5" width="45" height="92.9" rx="1.2" fill="#fff" fill-opacity="0.8" stroke="#d8d8d8" stroke-width="0.5"/>
<line x1="212.8" x2="221.7" y1="198.8" y2="198.8" stroke="#f2d41c" stroke-width="1.1"/>
<text class="lg" x="225.1" y="200.3">FasterRCNN</text>
<line x1="212.8" x2="221.7" y1="205.4" y2="205.4" stroke="#cdcdcd" stroke-width="1.1"/>
<text class="lg" x="225.1" y="206.9">SSD</text>
<line x1="212.8" x2="221.7" y1="212" y2="212" stroke="#3c9a4c" stroke-width="1.1"/>
<text class="lg" x="225.1" y="213.5">CenterNet</text>
<line x1="212.8" x2="221.7" y1="218.7" y2="218.7" stroke="#f8ae3e" stroke-width="1.1"/>
<text class="lg" x="225.1" y="220.2">RetinaNet</text>
<line x1="212.8" x2="221.7" y1="225.3" y2="225.3" stroke="#8f45b9" stroke-width="1.1"/>
<text class="lg" x="225.1" y="226.8">YOLOv3</text>
<line x1="212.8" x2="221.7" y1="231.9" y2="231.9" stroke="#b5494b" stroke-width="1.1"/>
<text class="lg" x="225.1" y="233.4">YOLOv4</text>
<line x1="212.8" x2="221.7" y1="238.5" y2="238.5" stroke="#f6f03a" stroke-width="1.1"/>
<text class="lg" x="225.1" y="240">YOLOv5m</text>
<line x1="212.8" x2="221.7" y1="245.1" y2="245.1" stroke="#f6c4cf" stroke-width="1.1"/>
<text class="lg" x="225.1" y="246.6">YOLOv5l</text>
<line x1="212.8" x2="221.7" y1="251.8" y2="251.8" stroke="#9c9c9c" stroke-width="1.1"/>
<text class="lg" x="225.1" y="253.3">YOLOx</text>
<line x1="212.8" x2="221.7" y1="258.4" y2="258.4" stroke="#45ecf2" stroke-width="1.1"/>
<text class="lg" x="225.1" y="259.9">YOLOv7</text>
<line x1="212.8" x2="221.7" y1="265" y2="265" stroke="#4545cc" stroke-width="1.1"/>
<text class="lg" x="225.1" y="266.5">DETR</text>
<line x1="212.8" x2="221.7" y1="271.6" y2="271.6" stroke="#45ec45" stroke-width="1.1"/>
<text class="lg" x="225.1" y="273.1">YOLOv4-AFFM</text>
<line x1="212.8" x2="221.7" y1="278.2" y2="278.2" stroke="#2f9797" stroke-width="1.1"/>
<text class="lg" x="225.1" y="279.7">YOLOx-DCA</text>
<line x1="212.8" x2="221.7" y1="284.9" y2="284.9" stroke="#ec4545" stroke-width="1.1"/>
<text class="lg" x="225.1" y="286.4">Ours-ResNet50</text>
<rect x="209.5" y="175.4" width="156" height="115.6" fill="none" stroke="#8a8a8a" stroke-width="1"/>
<line x1="217" x2="217" y1="291" y2="292.6" stroke="#8a8a8a" stroke-width="0.6"/>
<text class="tk" x="217" y="297.6" text-anchor="middle">0.0</text>
<line x1="247.4" x2="247.4" y1="291" y2="292.6" stroke="#8a8a8a" stroke-width="0.6"/>
<text class="tk" x="247.4" y="297.6" text-anchor="middle">0.2</text>
<line x1="277.8" x2="277.8" y1="291" y2="292.6" stroke="#8a8a8a" stroke-width="0.6"/>
<text class="tk" x="277.8" y="297.6" text-anchor="middle">0.4</text>
<line x1="308.2" x2="308.2" y1="291" y2="292.6" stroke="#8a8a8a" stroke-width="0.6"/>
<text class="tk" x="308.2" y="297.6" text-anchor="middle">0.6</text>
<line x1="338.6" x2="338.6" y1="291" y2="292.6" stroke="#8a8a8a" stroke-width="0.6"/>
<text class="tk" x="338.6" y="297.6" text-anchor="middle">0.8</text>
<line x1="207.9" x2="209.5" y1="285.6" y2="285.6" stroke="#8a8a8a" stroke-width="0.6"/>
<text class="tk" x="205.9" y="287.1" text-anchor="end">0.0</text>
<line x1="207.9" x2="209.5" y1="264.6" y2="264.6" stroke="#8a8a8a" stroke-width="0.6"/>
<text class="tk" x="205.9" y="266.1" text-anchor="end">0.2</text>
<line x1="207.9" x2="209.5" y1="243.6" y2="243.6" stroke="#8a8a8a" stroke-width="0.6"/>
<text class="tk" x="205.9" y="245.1" text-anchor="end">0.4</text>
<line x1="207.9" x2="209.5" y1="222.6" y2="222.6" stroke="#8a8a8a" stroke-width="0.6"/>
<text class="tk" x="205.9" y="224.1" text-anchor="end">0.6</text>
<line x1="207.9" x2="209.5" y1="201.6" y2="201.6" stroke="#8a8a8a" stroke-width="0.6"/>
<text class="tk" x="205.9" y="203.1" text-anchor="end">0.8</text>
<line x1="207.9" x2="209.5" y1="180.6" y2="180.6" stroke="#8a8a8a" stroke-width="0.6"/>
<text class="tk" x="205.9" y="182.1" text-anchor="end">1.0</text>
<text class="sf" x="287.5" y="172" font-size="9" text-anchor="middle">Smallfish</text>
<text class="sf" x="287.5" y="305.1" font-size="7.3" text-anchor="middle">Precision</text>
<text class="sf" transform="translate(195.9,233.2) rotate(-90)" font-size="7.3" text-anchor="middle">Recall</text>
<text class="sf" x="285" y="319.9" font-size="11" font-weight="bold" text-anchor="middle">(e)</text>
<clipPath id="cf"><rect x="390.5" y="176" width="154.6" height="115.2"/></clipPath>
<g clip-path="url(#cf)" fill="none" stroke-width="1.1" stroke-linejoin="round" stroke-linecap="butt">
<polyline points="397.3,182 520,183.5 532,187 536,195 537.5,210 537.5,285" stroke="#f2d41c"/>
<polyline points="397.3,182.5 460,184 467.7,184.6 477,186.5 486.2,190.2 495.5,194.8 502.8,200.3 508.4,205.9 510,207.3 512.1,213.3 514.9,220.7 516.7,228.1 518.6,235.5 520.8,238.7 523.2,248.2 524.4,257.7 525.6,272 526.1,276.7" stroke="#cdcdcd"/>
<polyline points="397.3,182.2 520,184.3 528,187 531.5,190.3 531.5,208.8" stroke="#3c9a4c"/>
<polyline points="397.3,181.5 480,183 505,185.4 511.2,186 517.3,186.6 523.5,187.8 527.2,189.1 529,191.5 529.5,200" stroke="#f8ae3e"/>
<polyline points="397.3,182 406,182.5 420.5,182.5 470,183.5 483.5,184.6 491.3,185.4 500.7,186.2 505,186.6 511.6,187.7 517.3,188.5 523.5,189.7 526.5,190.9 527.2,194 527.5,282.6" stroke="#8f45b9"/>
<polyline points="397.3,181.8 486.6,183 496,185.4 500.7,187.7 505,190.9 512.4,191.5 517.3,192.8 521,194 524.7,195.2 528.4,197.7 530.8,200.2 534.5,204.5 535.5,207 536,230" stroke="#b5494b"/>
<polyline points="397.3,182.3 440,183.2 458.5,183.7 473.3,185.5 486.2,188.3 495.5,190.2 504.7,193.9 509.9,197.1 514.8,200.2 519,204.5 523,209.5 525.5,215 527.5,220 529.2,224.5 531.5,234 532.7,243.5 533.9,253 534,260" stroke="#f6f03a"/>
<polyline points="397.3,181.5 525,183 533,186 536,190 537,260" stroke="#f6c4cf"/>
<polyline points="397.3,181.8 520,183 530,186 535,192 537,203 537,275" stroke="#9c9c9c"/>
<polyline points="397.3,182 527,184.8 531.5,189 533.3,194 533.9,199 534,220" stroke="#45ecf2"/>
<polyline points="397.3,181.6 530,182 534.5,185.4 534.6,281.4" stroke="#4545cc"/>
<polyline points="397.3,181.8 523.5,183.5 528.4,184.8 530.8,187.2 532.7,190.3 533.5,195 533.8,230" stroke="#45ec45"/>
<polyline points="397.3,182.2 440,183 520,184 527,186.5 530.5,189.5 532,193 532,208.8 537,215 537,270" stroke="#2f9797"/>
<polyline points="397.3,181.3 535.2,181.7 535.8,183 535.8,272" stroke="#ec4545"/>
</g>
<rect x="392.4" y="196.1" width="45.6" height="92.4" rx="1.2" fill="#fff" fill-opacity="0.8" stroke="#d8d8d8" stroke-width="0.5"/>
<line x1="393.7" x2="402.6" y1="199.2" y2="199.2" stroke="#f2d41c" stroke-width="1.1"/>
<text class="lg" x="406" y="200.7">FasterRCNN</text>
<line x1="393.7" x2="402.6" y1="205.8" y2="205.8" stroke="#cdcdcd" stroke-width="1.1"/>
<text class="lg" x="406" y="207.3">SSD</text>
<line x1="393.7" x2="402.6" y1="212.4" y2="212.4" stroke="#3c9a4c" stroke-width="1.1"/>
<text class="lg" x="406" y="213.9">CenterNet</text>
<line x1="393.7" x2="402.6" y1="219" y2="219" stroke="#f8ae3e" stroke-width="1.1"/>
<text class="lg" x="406" y="220.5">RetinaNet</text>
<line x1="393.7" x2="402.6" y1="225.6" y2="225.6" stroke="#8f45b9" stroke-width="1.1"/>
<text class="lg" x="406" y="227.1">YOLOv3</text>
<line x1="393.7" x2="402.6" y1="232.2" y2="232.2" stroke="#b5494b" stroke-width="1.1"/>
<text class="lg" x="406" y="233.7">YOLOv4</text>
<line x1="393.7" x2="402.6" y1="238.8" y2="238.8" stroke="#f6f03a" stroke-width="1.1"/>
<text class="lg" x="406" y="240.3">YOLOv5m</text>
<line x1="393.7" x2="402.6" y1="245.4" y2="245.4" stroke="#f6c4cf" stroke-width="1.1"/>
<text class="lg" x="406" y="246.9">YOLOv5l</text>
<line x1="393.7" x2="402.6" y1="252" y2="252" stroke="#9c9c9c" stroke-width="1.1"/>
<text class="lg" x="406" y="253.5">YOLOx</text>
<line x1="393.7" x2="402.6" y1="258.6" y2="258.6" stroke="#45ecf2" stroke-width="1.1"/>
<text class="lg" x="406" y="260.1">YOLOv7</text>
<line x1="393.7" x2="402.6" y1="265.2" y2="265.2" stroke="#4545cc" stroke-width="1.1"/>
<text class="lg" x="406" y="266.7">DETR</text>
<line x1="393.7" x2="402.6" y1="271.8" y2="271.8" stroke="#45ec45" stroke-width="1.1"/>
<text class="lg" x="406" y="273.3">YOLOv4-AFFM</text>
<line x1="393.7" x2="402.6" y1="278.4" y2="278.4" stroke="#2f9797" stroke-width="1.1"/>
<text class="lg" x="406" y="279.9">YOLOx-DCA</text>
<line x1="393.7" x2="402.6" y1="285" y2="285" stroke="#ec4545" stroke-width="1.1"/>
<text class="lg" x="406" y="286.5">Ours-ResNet50</text>
<rect x="390.5" y="176" width="154.6" height="115.2" fill="none" stroke="#8a8a8a" stroke-width="1"/>
<line x1="397.6" x2="397.6" y1="291.2" y2="292.8" stroke="#8a8a8a" stroke-width="0.6"/>
<text class="tk" x="397.6" y="297.8" text-anchor="middle">0.0</text>
<line x1="426.7" x2="426.7" y1="291.2" y2="292.8" stroke="#8a8a8a" stroke-width="0.6"/>
<text class="tk" x="426.7" y="297.8" text-anchor="middle">0.2</text>
<line x1="455.7" x2="455.7" y1="291.2" y2="292.8" stroke="#8a8a8a" stroke-width="0.6"/>
<text class="tk" x="455.7" y="297.8" text-anchor="middle">0.4</text>
<line x1="484.8" x2="484.8" y1="291.2" y2="292.8" stroke="#8a8a8a" stroke-width="0.6"/>
<text class="tk" x="484.8" y="297.8" text-anchor="middle">0.6</text>
<line x1="513.8" x2="513.8" y1="291.2" y2="292.8" stroke="#8a8a8a" stroke-width="0.6"/>
<text class="tk" x="513.8" y="297.8" text-anchor="middle">0.8</text>
<line x1="542.9" x2="542.9" y1="291.2" y2="292.8" stroke="#8a8a8a" stroke-width="0.6"/>
<text class="tk" x="542.9" y="297.8" text-anchor="middle">1.0</text>
<line x1="388.9" x2="390.5" y1="286" y2="286" stroke="#8a8a8a" stroke-width="0.6"/>
<text class="tk" x="386.9" y="287.5" text-anchor="end">0.0</text>
<line x1="388.9" x2="390.5" y1="265.1" y2="265.1" stroke="#8a8a8a" stroke-width="0.6"/>
<text class="tk" x="386.9" y="266.6" text-anchor="end">0.2</text>
<line x1="388.9" x2="390.5" y1="244.2" y2="244.2" stroke="#8a8a8a" stroke-width="0.6"/>
<text class="tk" x="386.9" y="245.7" text-anchor="end">0.4</text>
<line x1="388.9" x2="390.5" y1="223.3" y2="223.3" stroke="#8a8a8a" stroke-width="0.6"/>
<text class="tk" x="386.9" y="224.8" text-anchor="end">0.6</text>
<line x1="388.9" x2="390.5" y1="202.4" y2="202.4" stroke="#8a8a8a" stroke-width="0.6"/>
<text class="tk" x="386.9" y="203.9" text-anchor="end">0.8</text>
<line x1="388.9" x2="390.5" y1="181.5" y2="181.5" stroke="#8a8a8a" stroke-width="0.6"/>
<text class="tk" x="386.9" y="183" text-anchor="end">1.0</text>
<text class="sf" x="467.8" y="172.9" font-size="9" text-anchor="middle">Starfish</text>
<text class="sf" x="467.8" y="304.8" font-size="7.3" text-anchor="middle">Precision</text>
<text class="sf" transform="translate(376.9,233.6) rotate(-90)" font-size="7.3" text-anchor="middle">Recall</text>
<text class="sf" x="466.3" y="319.8" font-size="11" font-weight="bold" text-anchor="middle">(f)</text>
</svg></body></html>
